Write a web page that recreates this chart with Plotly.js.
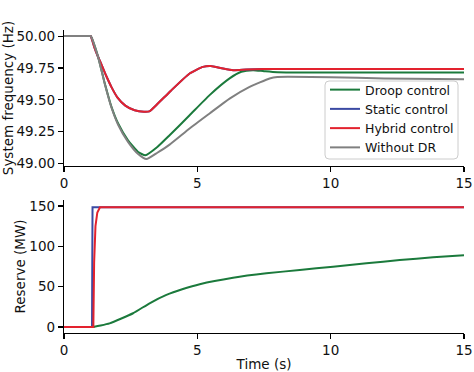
<!DOCTYPE html>
<html>
<head>
<meta charset="utf-8">
<script src="https://cdn.plot.ly/plotly-3.0.1.min.js"></script>
<style>html,body{margin:0;padding:0;background:#fff;}#chart{width:474px;height:372px;}</style>
</head>
<body>
<div id="chart"></div>
<script>
// ---- Data ----
const seriesNames = ["Droop control", "Static control", "Hybrid control", "Without DR"];
const seriesColors = ["#1b7a3c", "#3b4aa3", "#e3222e", "#808080"];

// Top panel: system frequency (Hz)
const droopFreqT = [0, 0.95, 1, 1.28, 1.53, 1.78, 2.03, 2.4, 2.78, 3.05, 3.5, 3.96, 4.71, 5.46, 6.21, 6.65, 7.09, 7.5, 8, 15];
const droopFreqV = [50, 50, 50, 49.837, 49.628, 49.445, 49.314, 49.183, 49.091, 49.065, 49.13, 49.222, 49.379, 49.537, 49.668, 49.72, 49.733, 49.725, 49.717, 49.715];

const hybridFreqT = [0, 0.95, 1, 1.15, 1.25, 1.4, 1.59, 1.78, 2.0, 2.3, 2.65, 3.0, 3.2, 3.52, 4.0, 4.71, 5.21, 5.5, 5.96, 6.34, 6.84, 7.5, 15];
const hybridFreqV = [50, 50, 50, 49.905, 49.85, 49.78, 49.685, 49.60, 49.52, 49.455, 49.418, 49.407, 49.41, 49.471, 49.57, 49.707, 49.759, 49.766, 49.746, 49.733, 49.738, 49.742, 49.742];

const staticFreqT = hybridFreqT;
const staticFreqV = hybridFreqV;

const noDrFreqT = [0, 0.95, 1, 1.28, 1.53, 1.78, 2.03, 2.4, 2.78, 3.09, 3.5, 3.96, 4.71, 5.46, 6.21, 6.96, 7.71, 8, 10, 12, 15];
const noDrFreqV = [50, 50, 50, 49.835, 49.625, 49.44, 49.305, 49.17, 49.075, 49.035, 49.085, 49.149, 49.275, 49.393, 49.51, 49.602, 49.668, 49.68, 49.678, 49.668, 49.662];

// Bottom panel: reserve (MW)
const droopResT = [0, 1.0, 1.08, 1.71, 2.59, 3.21, 3.84, 4.46, 5.09, 6.34, 7.59, 8.84, 10.09, 11.34, 12.59, 13.84, 15];
const droopResV = [0, 0, 0, 4.5, 17, 29.4, 39.7, 47, 53, 61, 66.5, 70.7, 74.8, 79, 83, 86.4, 88.9];

const staticResT = [0, 1.05, 1.07, 1.2, 15];
const staticResV = [0, 0, 148.5, 148.5, 148.5];

const hybridResT = [0, 1.1, 1.13, 1.18, 1.25, 1.35, 15];
const hybridResV = [0, 0, 80, 125, 142, 148.5, 148.5];

const xTicks = [0, 5, 10, 15];
const freqTicks = [49.00, 49.25, 49.50, 49.75, 50.00];
const freqTickLabels = ["49.00", "49.25", "49.50", "49.75", "50.00"];
const resTicks = [0, 50, 100, 150];

// ---- Traces ----
const lw = 2;
function line(x, y, i, xa, ya, legend, smooth) {
  return {x: x, y: y, type: "scatter", mode: "lines", name: seriesNames[i],
    line: smooth ? {color: seriesColors[i], width: lw, shape: "spline", smoothing: 0.5}
                 : {color: seriesColors[i], width: lw},
    xaxis: xa, yaxis: ya, showlegend: legend, hoverinfo: "skip"};
}
const traces = [
  line(droopFreqT, droopFreqV, 0, "x", "y", true, true),
  line(staticFreqT, staticFreqV, 1, "x", "y", true, true),
  line(hybridFreqT, hybridFreqV, 2, "x", "y", true, true),
  line(noDrFreqT, noDrFreqV, 3, "x", "y", true, true),
  line(droopResT, droopResV, 0, "x2", "y2", false, true),
  line(staticResT, staticResV, 1, "x2", "y2", false, false),
  line(hybridResT, hybridResV, 2, "x2", "y2", false, false)
];

const font = {family: "DejaVu Sans", size: 13.5, color: "#111"};
const axisCommon = {
  showline: true, linecolor: "#000", linewidth: 1.2, mirror: false,
  ticks: "outside", ticklen: 5, tickwidth: 1.2, tickcolor: "#000",
  showgrid: false, zeroline: false, tickfont: font, fixedrange: true
};
const H = 372, W = 474;
// legend frame (rounded box) in paper coords
const bx0 = (325 - 64) / 400, bx1 = (458 - 64) / 400;
const by0 = 1 - 159 / H, by1 = 1 - 81 / H;
const rx = 4 / 400, ry = 4 / H;
const boxPath = `M ${bx0 + rx} ${by1} L ${bx1 - rx} ${by1} Q ${bx1} ${by1} ${bx1} ${by1 - ry} ` +
  `L ${bx1} ${by0 + ry} Q ${bx1} ${by0} ${bx1 - rx} ${by0} L ${bx0 + rx} ${by0} Q ${bx0} ${by0} ${bx0} ${by0 + ry} ` +
  `L ${bx0} ${by1 - ry} Q ${bx0} ${by1} ${bx0 + rx} ${by1} Z`;

const layout = {
  width: W, height: H,
  margin: {l: 64, r: 10, t: 0, b: 0, pad: 0},
  paper_bgcolor: "#fff", plot_bgcolor: "#fff",
  font: font,
  showlegend: true,
  legend: {
    x: (325 - 64) / 400, y: 1 - 75 / H, xanchor: "left", yanchor: "top",
    bgcolor: "rgba(0,0,0,0)", borderwidth: 0,
    font: {family: "DejaVu Sans", size: 12.5, color: "#111"},
    tracegroupgap: 0
  },
  shapes: [{
    type: "path", xref: "paper", yref: "paper", path: boxPath,
    fillcolor: "rgba(255,255,255,0.85)", line: {color: "#cccccc", width: 1}, layer: "above"
  }],
  xaxis: Object.assign({}, axisCommon, {
    domain: [0, 1], range: [0, 15], tickvals: xTicks, anchor: "y"
  }),
  yaxis: Object.assign({}, axisCommon, {
    domain: [1 - 166 / H, 1 - 30 / H], range: [48.981, 50.048],
    tickvals: freqTicks, ticktext: freqTickLabels, anchor: "x",
    title: {text: "System frequency (Hz)", font: font, standoff: 4}
  }),
  xaxis2: Object.assign({}, axisCommon, {
    domain: [0, 1], range: [0, 15], tickvals: xTicks, anchor: "y2",
    title: {text: "Time (s)", font: font, standoff: 2}
  }),
  yaxis2: Object.assign({}, axisCommon, {
    domain: [1 - 333 / H, 1 - 200 / H], range: [-7.5, 157.5],
    tickvals: resTicks, anchor: "x2",
    title: {text: "Reserve (MW)", font: font, standoff: 0}
  })
};

Plotly.newPlot("chart", traces, layout, {displayModeBar: false, staticPlot: true});
</script>
</body>
</html>
